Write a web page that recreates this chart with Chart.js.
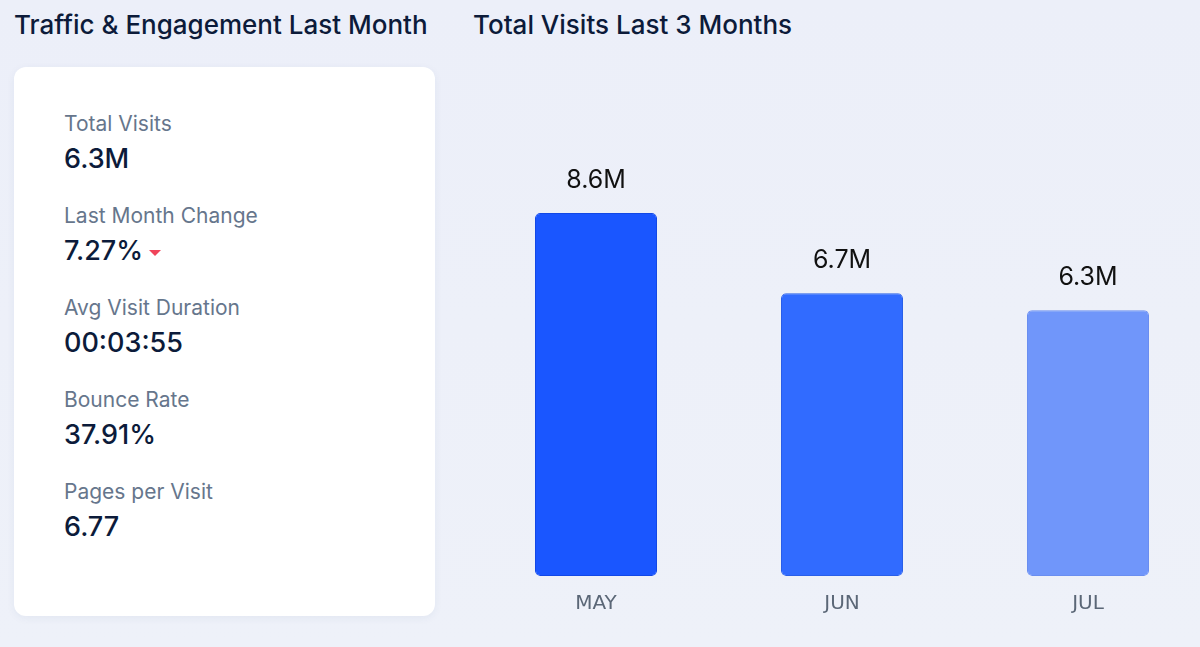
<!DOCTYPE html>
<html lang="en">
<head>
    <meta charset="UTF-8">
    <title>Traffic & Engagement</title>
    <script src="https://cdn.jsdelivr.net/npm/chart.js"></script>
    <style>
        body {
            margin: 0;
            width: 1200px;
            height: 647px;
            overflow: hidden;
            background: linear-gradient(180deg, #eceff9 0%, #eef1f9 100%);
            font-family: "DejaVu Sans", sans-serif;
            position: relative;
        }
        h2 {
            position: absolute;
            margin: 0;
            font-family: Inter, sans-serif;
            font-weight: 500;
            font-size: 26px;
            color: #0c1b3a;
            top: 9px;
        }
        .card {
            position: absolute;
            left: 14px;
            top: 67px;
            width: 421px;
            height: 549px;
            background: #fff;
            border-radius: 12px;
            box-shadow: 0 2px 8px rgba(40, 60, 120, 0.06);
        }
        .stat {
            position: absolute;
            left: 50px;
        }
        .stat .label {
            font-family: Inter, sans-serif;
            font-size: 21px;
            color: #66768c;
            line-height: 26px;
        }
        .stat .value {
            font-family: Inter, sans-serif;
            font-size: 27px;
            font-weight: 500;
            color: #0c1b3a;
            line-height: 34px;
            margin-top: 5px;
        }
        .tri {
            display: inline-block;
            width: 0;
            height: 0;
            border-left: 6px solid transparent;
            border-right: 6px solid transparent;
            border-top: 6px solid #f0445a;
            vertical-align: middle;
            margin-left: 6px;
        }
        .chart-box {
            position: absolute;
            left: 473px;
            top: 100px;
            width: 738px;
            height: 532px;
        }
    </style>
</head>
<body>
    <h2 style="left:14px">Traffic &amp; Engagement Last Month</h2>
    <h2 style="left:473px">Total Visits Last 3 Months</h2>

    <div class="card" id="card"></div>

    <div class="chart-box">
        <canvas id="visitsChart"></canvas>
    </div>

    <script>
        // stats card
        const statLabels = ["Total Visits", "Last Month Change", "Avg Visit Duration", "Bounce Rate", "Pages per Visit"];
        const statValues = ["6.3M", "7.27%", "00:03:55", "37.91%", "6.77"];

        // bar chart
        const months = ["MAY", "JUN", "JUL"];
        const visits = [8.6, 6.7, 6.3];
        const barColors = ["#1a56ff", "#316bff", "#7096fa"];
        const borderColors = ["#1248e6", "#2a5fe8", "#6a8ef0"];

        const card = document.getElementById("card");
        for (let i = 0; i < statLabels.length; i++) {
            const div = document.createElement("div");
            div.className = "stat";
            div.style.top = (44 + i * 92) + "px";
            let val = statValues[i];
            if (i === 1) val += '<span class="tri"></span>';
            div.innerHTML = '<div class="label">' + statLabels[i] + '</div><div class="value">' + val + '</div>';
            card.appendChild(div);
        }

        const valueLabels = {
            id: "valueLabels",
            afterDatasetsDraw(chart) {
                const ctx = chart.ctx;
                const meta = chart.getDatasetMeta(0);
                ctx.save();
                ctx.font = "400 25px Inter, sans-serif";
                ctx.fillStyle = "#111";
                ctx.textAlign = "center";
                ctx.textBaseline = "bottom";
                meta.data.forEach(function(bar, i) {
                    ctx.fillText(visits[i] + "M", bar.x, bar.y - 20);
                });
                ctx.restore();
            }
        };

        new Chart(document.getElementById("visitsChart"), {
            type: "bar",
            data: {
                labels: months,
                datasets: [{
                    data: visits,
                    backgroundColor: barColors,
                    borderColor: borderColors,
                    borderWidth: 1,
                    borderRadius: 5,
                    borderSkipped: false,
                    categoryPercentage: 1,
                    barPercentage: 0.496
                }]
            },
            options: {
                responsive: true,
                maintainAspectRatio: false,
                animation: false,
                layout: { padding: { top: 54, left: 0, right: 0, bottom: 0 } },
                plugins: {
                    legend: { display: false },
                    tooltip: { enabled: false }
                },
                scales: {
                    x: {
                        grid: { display: false, drawTicks: false },
                        border: { display: false },
                        ticks: {
                            color: "#5b6777",
                            padding: 16,
                            font: { family: "DejaVu Sans", size: 20 }
                        }
                    },
                    y: {
                        display: false,
                        min: 0,
                        max: 10
                    }
                }
            },
            plugins: [valueLabels]
        });
    </script>
</body>
</html>
